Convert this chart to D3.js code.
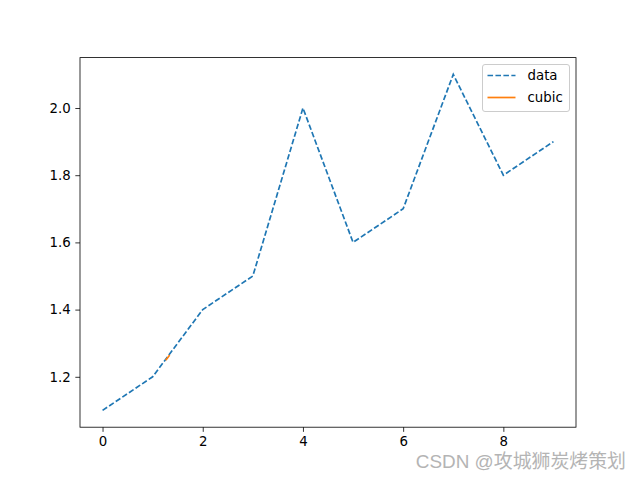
<!DOCTYPE html>
<html><head><meta charset="utf-8">
<script src="https://cdn.jsdelivr.net/npm/d3@7"></script>
<style>body{margin:0;background:#fff}svg{display:block}</style>
</head><body>
<svg id="c" width="640" height="480"></svg>
<script>
const dataX = [0,1,2,3,4,5,6,7,8,9];
const dataY = [1.1,1.2,1.4,1.5,2.0,1.6,1.7,2.1,1.8,1.9];
const cubicX = [1.26,1.30,1.34];
const cubicY = [1.249,1.257,1.265];
const xTicks = [0,2,4,6,8];
const yTicks = [1.2,1.4,1.6,1.8,2.0];
const legendLabels = ["data","cubic"];

const svg = d3.select("#c");
const L=80,R=576,T=57.6,B=427.2;
const x = d3.scaleLinear().domain([-0.45,9.45]).range([L,R]);
const y = d3.scaleLinear().domain([1.05,2.15]).range([B,T]);
const font = "'DejaVu Sans', sans-serif";

const xa = svg.append("g").attr("transform",`translate(0,${B})`)
  .call(d3.axisBottom(x).tickValues(xTicks).tickFormat(d3.format("d")).tickSize(4.67).tickPadding(4.67));
const ya = svg.append("g").attr("transform",`translate(${L},0)`)
  .call(d3.axisLeft(y).tickValues(yTicks).tickFormat(d3.format(".1f")).tickSize(4.67).tickPadding(4.67));
[xa,ya].forEach(a=>{
  a.select(".domain").remove();
  a.selectAll("line").attr("stroke","#000").attr("stroke-width",0.8);
  a.selectAll("text").style("font-family",font).style("font-size","13.33px").attr("fill","#000");
});

const line = d3.line().x(d=>x(d[0])).y(d=>y(d[1]));
svg.append("path").datum(dataX.map((d,i)=>[d,dataY[i]]))
  .attr("d",line).attr("fill","none").attr("stroke","#1f77b4").attr("stroke-width",1.7)
  .attr("stroke-dasharray","5.55,2.4");
svg.append("path").datum(cubicX.map((d,i)=>[d,cubicY[i]]))
  .attr("d",line).attr("fill","none").attr("stroke","#ff7f0e").attr("stroke-width",1.7);

svg.append("rect").attr("x",L).attr("y",T).attr("width",R-L).attr("height",B-T)
  .attr("fill","none").attr("stroke","#000").attr("stroke-width",0.8);

// legend
const lg = svg.append("g");
lg.append("rect").attr("x",482.5).attr("y",64.5).attr("width",87).attr("height",47)
  .attr("rx",2.5).attr("fill","#fff").attr("fill-opacity",0.8).attr("stroke","#cccccc").attr("stroke-width",1);
const colors=["#1f77b4","#ff7f0e"];
legendLabels.forEach((lab,i)=>{
  const yy = 75.5 + i*22;
  lg.append("line").attr("x1",487.5).attr("x2",515.5).attr("y1",yy).attr("y2",yy)
    .attr("stroke",colors[i]).attr("stroke-width",1.7)
    .attr("stroke-dasharray", i===0 ? "5.55,2.4" : null);
  lg.append("text").attr("x",527.5).attr("y",yy+4.8).text(lab)
    .style("font-family",font).style("font-size","13.33px").attr("fill","#000");
});

// watermark
svg.append("text").attr("x",626).attr("y",468).attr("text-anchor","end")
  .style("font-family","'Liberation Sans', 'Noto Sans CJK SC', sans-serif").style("font-size","18.9px")
  .attr("fill","#b4b4b4").text("CSDN @攻城狮炭烤策划");
</script>
</body></html>
